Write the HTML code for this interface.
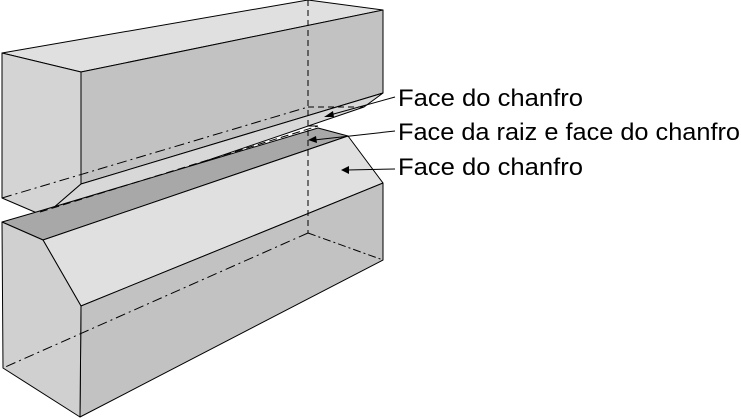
<!DOCTYPE html>
<html><head><style>
body{margin:0;background:#fff;width:741px;height:419px;overflow:hidden}
svg{position:absolute;left:0;top:0}
text{font-family:"Liberation Sans",sans-serif;font-size:24px;fill:#000}
</style></head><body>
<svg width="741" height="419" viewBox="0 0 741 419">
<g stroke="#000" stroke-width="1" stroke-linejoin="round">
<polygon points="2,53 308,0 383,10 81,72" fill="#e0e0e0"/>
<polygon points="2,53 81,72 81,184 44,216 2,198" fill="#d4d4d4"/>
<polygon points="81,72 383,10 383,93 81,184" fill="#c2c2c2"/>
<polygon points="81,184 383,93 364,107 44,216" fill="#d8d8d8"/>
<polygon points="2,222 33,213 318,128 348,136 43,240" fill="#a8a8a8"/>
<polygon points="43,240 348,136 383,183 81,306" fill="#e0e0e0"/>
<polygon points="81,306 383,183 383,260 80,417" fill="#c2c2c2"/>
<polygon points="2,222 43,240 81,306 80,417 3,368" fill="#d0d0d0"/>
</g>
<g stroke="#000" stroke-width="1" fill="none">
<line x1="308" y1="0" x2="308" y2="233" stroke-dasharray="6,4"/>
<line x1="308" y1="233" x2="383" y2="260" stroke-dasharray="8,3,2,3"/>
<line x1="308" y1="233" x2="3" y2="368" stroke-dasharray="10,4,2,4"/>
<line x1="2" y1="198" x2="308" y2="107" stroke-dasharray="10,4,2,4"/>
<line x1="308" y1="107" x2="364" y2="107" stroke-dasharray="6,4"/>
<line x1="40" y1="212" x2="318" y2="126" stroke-dasharray="8,4"/>
<line x1="308" y1="126" x2="318" y2="126"/>
<line x1="395" y1="97" x2="330" y2="115"/>
<line x1="395" y1="131" x2="314" y2="140"/>
<line x1="395" y1="169" x2="347" y2="170"/>
</g>
<g fill="#000">
<polygon points="324,117 333,111 334,117"/>
<polygon points="308,140 316,136 317,143"/>
<polygon points="341,170 349,166 349,174"/>
</g>
<text x="398" y="106" textLength="185" lengthAdjust="spacingAndGlyphs">Face do chanfro</text>
<text x="398" y="140" textLength="342" lengthAdjust="spacingAndGlyphs">Face da raiz e face do chanfro</text>
<text x="398" y="175" textLength="185" lengthAdjust="spacingAndGlyphs">Face do chanfro</text>
</svg>
</body></html>
